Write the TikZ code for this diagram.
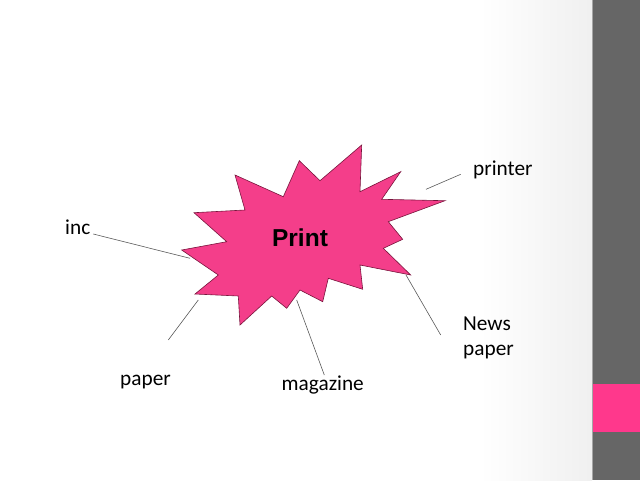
\documentclass[tikz,border=0pt]{standalone}
\usepackage{fontspec}
\setmainfont{Carlito}
\newfontfamily\printfont{Liberation Sans}
\definecolor{burst}{RGB}{244,62,138}
\definecolor{burstedge}{RGB}{120,20,60}
\definecolor{sidegray}{RGB}{102,102,102}
\definecolor{sidepink}{RGB}{255,56,140}

\begin{document}
\begin{tikzpicture} [x=1pt, y=-1pt,
  word/.style={anchor=base west, inner sep=0pt, align=left, font=\fontsize{21.3}{25}\selectfont},
  leader/.style={draw=black!65, line width=0.6pt}]
\useasboundingbox (0,0) rectangle (640,480);

\shade[left color=white, right color=black!6] (480,0) rectangle (592,480);
\fill[sidegray] (592,0) rectangle (640,480);
\fill[sidepink] (592,384) rectangle (640,432);
\draw[black!35, line width=0.8pt] (592.4,0) -- (592.4,480);

\draw[burstedge, line width=0.6pt, fill=burst] plot coordinates {
  (361.7,145) (360,191.7) (400.7,171.7) (381.7,199.3) (445,200.7)
  (388.3,221.7) (402.7,239.3) (383.3,248.3) (410.7,275) (360,265)
  (362.7,289.3) (328.3,278.3) (322.7,301.7) (300,290) (286.7,308.3)
  (271.7,296) (240,325) (238.3,296) (195,294) (218.3,275)
  (181.7,250) (226.7,241.7) (194,212.7) (245,210) (235,175)
  (283.3,196.7) (299.3,160.7) (320,180.7)} -- cycle;

\node[anchor=base, inner sep=0pt, font=\printfont\bfseries\fontsize{24.5}{28}\selectfont] (print) at (300,246) {Print};

\node[word] (inc) at (65,234) {inc};
\node[word] (printer) at (473,175) {printer};
\node[word] (news) at (463,355) {News\\paper};
\node[word] (paper) at (120,385) {paper};
\node[word] (magazine) at (281.5,390) {magazine};

\coordinate (inc-a) at (93.3,234);    \coordinate (inc-b) at (190,258.3);
\coordinate (printer-a) at (460.7,174.3); \coordinate (printer-b) at (426,189.3);
\coordinate (news-a) at (440.7,335);  \coordinate (news-b) at (406,275);
\coordinate (paper-a) at (168.3,340); \coordinate (paper-b) at (198.3,300);
\coordinate (magazine-a) at (324.3,375); \coordinate (magazine-b) at (296.7,300);

\foreach \w in {inc, printer, news, paper, magazine}
\draw[leader] (\w-a) -- (\w-b);

\end{tikzpicture}
\end{document}
